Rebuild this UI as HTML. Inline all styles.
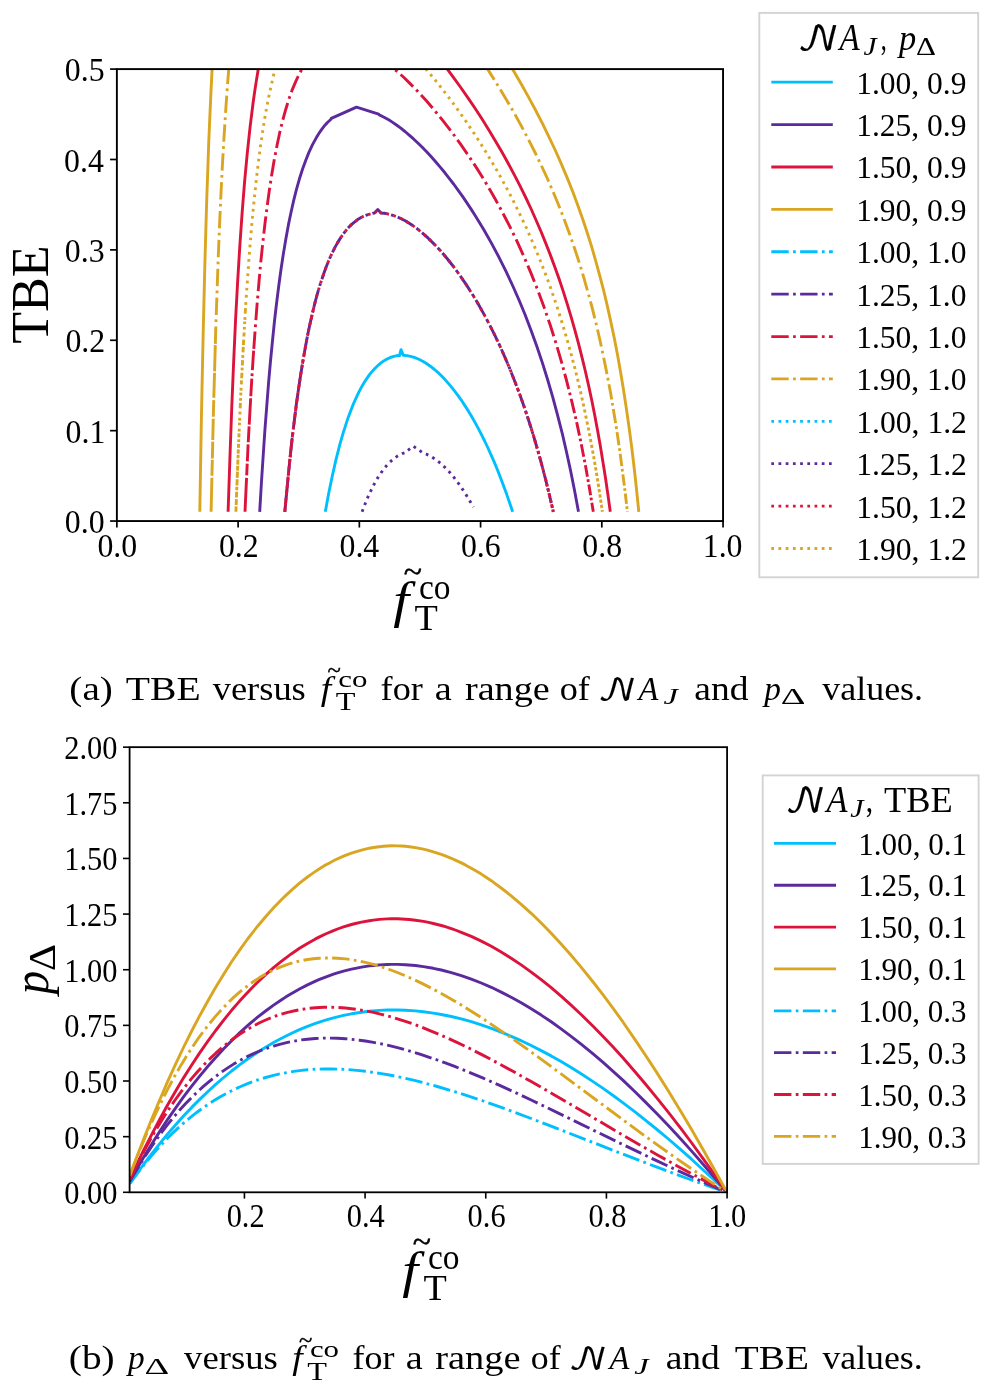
<!DOCTYPE html>
<html lang="en"><head><meta charset="utf-8"><style>html,body{margin:0;padding:0;background:#fff}svg{display:block}</style></head><body>
<svg width="991" height="1380" viewBox="0 0 991 1380" style="display:block;font-kerning:none">
<rect width="991" height="1380" fill="#fff"/>
<defs><clipPath id="c1"><rect x="116.87" y="69.1" width="606.18" height="451.95"/></clipPath>
<clipPath id="c2"><rect x="129.6" y="747.16" width="597.48" height="445.14"/></clipPath></defs>
<g clip-path="url(#c1)">
<path d="M325.3 511.8 L328.7 493.2 L332.4 475.5 L336.0 459.6 L339.8 444.7 L343.7 431.2 L345.7 425.1 L347.8 418.6 L349.9 412.9 L352.0 407.4 L354.1 402.3 L356.6 396.8 L358.6 392.6 L360.8 388.4 L363.0 384.5 L365.4 380.6 L367.6 377.4 L369.7 374.4 L372.2 371.4 L374.6 368.7 L377.9 365.5 L380.7 363.1 L383.7 360.9 L387.0 359.1 L390.3 357.5 L393.8 356.4 L396.0 355.9 L398.2 355.5 L398.9 355.4 L399.6 355.6 L401.0 349.6 L403.3 355.3 L406.9 355.6 L410.6 356.3 L414.2 357.4 L418.3 359.0 L422.3 361.0 L426.1 363.2 L430.3 366.2 L434.5 369.5 L437.8 372.3 L441.1 375.5 L444.3 378.8 L447.7 382.6 L451.1 386.6 L454.5 390.9 L457.7 395.1 L461.1 399.8 L464.9 405.6 L468.3 410.9 L471.8 416.8 L475.1 422.6 L478.4 428.6 L481.6 434.9 L484.9 441.5 L488.2 448.5 L491.5 455.9 L494.6 462.9 L497.9 471.0 L500.9 478.7 L506.8 494.6 L512.7 511.8" fill="none" stroke="#00bfff" stroke-width="2.9" stroke-linejoin="round"/>
<path d="M259.7 511.8 L261.4 483.0 L263.2 455.5 L264.9 430.0 L266.8 405.6 L268.6 382.4 L270.5 361.0 L272.5 340.7 L274.5 321.0 L276.6 303.0 L278.8 285.5 L281.1 268.8 L283.4 253.6 L285.9 238.7 L288.4 224.9 L291.0 212.5 L293.7 200.4 L296.4 189.6 L299.3 179.3 L302.5 169.3 L305.6 160.7 L308.9 152.4 L312.4 144.9 L316.1 138.1 L318.1 134.8 L319.8 132.1 L321.9 129.1 L324.2 126.1 L327.7 122.3 L331.0 119.2 L331.3 118.3 L356.5 107.2 L378.7 114.2 L379.3 114.9 L384.0 117.2 L388.7 119.8 L392.3 122.1 L396.5 125.0 L400.8 128.2 L405.0 131.5 L408.9 134.8 L413.3 138.7 L417.6 142.7 L422.0 147.0 L426.4 151.5 L430.8 156.3 L435.2 161.2 L440.0 166.9 L444.9 172.8 L449.2 178.3 L453.6 184.0 L458.2 190.3 L462.9 196.9 L467.1 203.1 L471.4 209.6 L475.6 216.2 L483.7 229.5 L491.7 243.6 L499.0 257.3 L505.9 271.1 L512.6 285.5 L519.0 300.0 L525.1 314.7 L531.1 330.5 L536.8 346.3 L542.4 362.9 L547.5 379.2 L552.6 396.6 L557.5 414.8 L562.1 432.8 L566.4 451.5 L570.6 470.8 L574.6 490.7 L578.5 511.8" fill="none" stroke="#5b2a9c" stroke-width="2.9" stroke-linejoin="round"/>
<path d="M228.1 511.8 L230.0 455.6 L231.8 406.2 L233.7 360.8 L235.6 319.3 L237.7 280.6 L239.9 244.8 L242.2 211.8 L244.6 181.6 L247.3 152.8 L250.1 126.9 L253.1 102.7 L254.7 91.5 L256.3 81.1 L258.0 70.8 L259.8 60.6 L261.6 51.3 L263.6 41.9 L265.8 32.6 L268.1 23.6 L270.6 15.2 L271.1 14.7 L402.1 14.7 L410.3 23.8 L418.6 33.2 L427.3 43.6 L435.5 53.8 L443.8 64.4 L452.3 75.8 L460.4 87.0 L468.5 98.6 L475.7 109.3 L482.5 119.8 L489.3 130.7 L496.0 141.9 L502.2 152.6 L508.4 163.7 L514.2 174.6 L520.0 185.9 L525.5 197.0 L530.9 208.5 L536.0 220.0 L541.2 232.0 L546.0 243.9 L550.6 255.6 L554.9 267.2 L559.3 279.6 L563.4 291.9 L567.5 304.9 L571.4 317.9 L575.0 330.7 L578.6 343.8 L582.0 357.4 L585.3 371.0 L588.6 385.5 L591.7 400.0 L594.6 414.5 L597.5 429.9 L600.3 445.7 L602.9 461.7 L605.5 478.0 L607.9 494.6 L610.3 511.8" fill="none" stroke="#dc143c" stroke-width="2.9" stroke-linejoin="round"/>
<path d="M199.8 511.8 L201.4 417.6 L203.1 336.8 L204.8 266.4 L206.6 203.7 L208.7 143.5 L209.9 115.6 L211.1 89.0 L212.6 59.4 L214.2 31.3 L215.3 15.3 L215.7 14.7 L477.7 14.7 L487.0 28.7 L496.8 43.7 L505.7 58.0 L513.8 71.3 L521.8 85.1 L529.1 98.1 L536.0 111.0 L542.9 124.4 L549.4 137.8 L555.4 150.5 L561.1 163.4 L566.9 177.1 L572.4 190.8 L577.5 204.5 L582.4 218.2 L587.0 232.0 L591.4 245.9 L595.7 260.8 L599.8 275.8 L603.7 290.6 L607.3 305.8 L610.9 322.1 L614.4 338.7 L617.7 355.7 L620.8 373.4 L623.7 391.0 L626.6 410.1 L629.3 429.1 L631.9 448.7 L634.3 469.0 L636.6 490.0 L638.8 511.8" fill="none" stroke="#daa520" stroke-width="2.9" stroke-linejoin="round"/>
<path d="M284.8 511.8 L288.5 473.2 L290.4 454.6 L292.3 437.1 L294.3 420.9 L296.3 404.8 L298.4 389.9 L300.6 375.3 L302.8 361.7 L305.0 349.2 L307.3 336.7 L309.7 325.2 L312.1 314.7 L314.6 304.2 L317.3 294.0 L320.0 284.9 L322.7 276.7 L325.5 268.8 L328.5 261.1 L331.5 254.3 L334.7 247.9 L337.6 242.6 L340.9 237.4 L344.3 232.6 L347.7 228.4 L350.8 225.2 L354.1 222.3 L357.7 219.6 L361.5 217.3 L363.5 216.3 L365.6 215.4 L369.1 214.3 L372.5 213.4 L374.5 213.0 L377.8 209.6 L381.0 213.0 L384.4 213.3 L387.3 213.8 L390.2 214.5 L393.1 215.4 L395.8 216.4 L399.2 217.8 L401.8 219.0 L405.2 220.8 L410.8 224.2 L416.3 228.1 L422.2 232.8 L428.2 238.2 L434.2 244.1 L440.8 251.1 L447.1 258.5 L453.4 266.5 L459.5 274.8 L465.9 284.1 L472.2 294.0 L478.1 303.8 L483.9 314.1 L489.4 324.4 L494.9 335.3 L500.4 347.0 L505.5 358.6 L510.7 370.9 L515.5 383.2 L520.5 396.4 L525.1 409.5 L529.4 422.7 L533.8 436.7 L537.9 450.8 L542.0 465.7 L545.8 480.2 L549.6 495.8 L553.3 511.8" fill="none" stroke="#5b2a9c" stroke-width="2.9" stroke-linejoin="round" stroke-dasharray="34.0 2.4 16.5 1.9 19.4 2.6 2.7 3.2 18.3 2.3 15.7 1.6 27.8 2.6 2.7 3.2 19.9 1.8 20.0 2.6 2.7 3.2 17.4 4.4 2.7 4.4 17.4 4.4 2.7 4.4 17.4 4.4 2.7 4.4 17.4 4.4 2.7 4.4 17.4 4.4 2.7 4.4 17.4 4.4 2.7 4.4 17.4 4.4 2.7 4.4 17.4 4.4 2.7 4.4 17.4 4.4 2.7 4.4 17.4 4.4 2.7 4.4 16.4 3.7 2.7 3.7 15.5 3.5 2.7 3.5 14.6 3.3 2.7 3.3 13.8 3.1 2.7 3.1 13.0 2.9 2.7 2.9 12.3 2.8 2.7 2.8 11.6 2.6 2.7 2.6 10.9 2.4 2.7 2.4 10.2 2.3 2.7 2.3 9.6 2.2 2.7 2.2 9.6 2.2 2.7 2.2 9.6 2.2 2.7 2.2"/>
<path d="M245.0 511.8 L248.1 444.7 L249.8 413.9 L251.4 385.5 L253.1 358.6 L254.9 333.1 L256.7 309.0 L258.6 286.4 L260.6 263.9 L262.7 243.6 L264.9 224.2 L267.1 206.6 L269.4 189.9 L271.8 174.2 L274.3 159.6 L277.0 145.4 L279.7 132.7 L282.6 120.7 L285.8 109.2 L288.9 99.1 L292.3 89.6 L295.7 81.6 L297.6 77.5 L299.4 73.8 L301.2 70.5 L303.1 67.2 L304.8 64.6 L306.9 61.5 L309.2 58.5 L311.1 56.2 L313.2 54.1 L315.4 52.0 L317.6 50.1 L320.1 48.3 L322.5 46.8 L325.2 45.4 L327.9 44.3 L330.0 43.6 L332.2 43.0 L335.1 42.5 L337.3 42.3 L340.2 42.2 L343.8 42.3 L348.2 43.0 L351.8 43.8 L356.2 45.1 L360.2 46.7 L364.9 48.8 L369.6 51.3 L374.0 53.9 L378.9 57.1 L383.7 60.5 L388.6 64.2 L393.8 68.5 L398.7 72.8 L404.2 77.8 L409.6 83.1 L415.1 88.6 L420.7 94.6 L426.6 101.0 L431.9 107.2 L437.7 114.2 L443.5 121.4 L448.9 128.3 L454.7 136.0 L460.2 143.7 L465.7 151.6 L470.8 159.1 L476.4 167.6 L481.5 175.7 L486.5 184.0 L491.2 192.0 L495.9 200.3 L500.7 209.0 L508.7 224.3 L516.6 240.4 L524.1 257.0 L531.1 273.4 L537.8 290.2 L544.2 307.6 L550.3 325.3 L556.1 343.6 L561.7 362.6 L566.8 381.5 L571.9 401.9 L576.7 422.4 L581.2 443.8 L585.4 465.3 L589.5 488.4 L593.3 511.8" fill="none" stroke="#dc143c" stroke-width="2.9" stroke-linejoin="round" stroke-dasharray="34.0 2.5 11.7 2.3 17.0 2.1 15.9 1.8 26.4 2.0 17.6 2.6 2.7 3.2 19.6 1.8 17.4 4.4 2.7 4.4 17.4 4.4 2.7 4.4 17.4 4.4 2.7 4.4 17.4 4.4 2.7 4.4 17.4 4.4 2.7 4.4 17.4 4.4 2.7 4.4 17.4 4.4 2.7 4.4 17.4 4.4 2.7 4.4 17.4 4.4 2.7 4.4 17.4 4.4 2.7 4.4 17.4 4.4 2.7 4.4 17.4 4.4 2.7 4.4 17.4 4.4 2.7 4.4 17.4 4.4 2.7 4.4 17.4 4.4 2.7 4.4 17.4 4.4 2.7 4.4 17.4 4.4 2.7 4.4 17.4 4.4 2.7 4.4 17.4 4.4 2.7 4.4 17.4 4.4 2.7 4.4 17.4 4.4 2.7 4.4 17.4 4.4 2.7 4.4 17.4 4.4 2.7 4.4 17.4 4.4 2.7 4.4 17.4 4.4 2.7 4.4 17.1 3.9 2.7 3.9 15.9 3.6 2.7 3.6 14.8 3.3 2.7 3.3 13.7 3.1 2.7 3.1 12.7 2.9 2.7 2.9 11.8 2.6 2.7 2.6 10.9 2.4 2.7 2.4 10.1 2.3 2.7 2.3 9.6 2.2 2.7 2.2 9.6 2.2 2.7 2.2 9.6 2.2 2.7 2.2"/>
<path d="M211.1 511.8 L213.4 413.0 L215.7 330.6 L217.0 293.3 L218.2 258.1 L219.5 226.4 L220.9 195.2 L222.4 164.9 L224.1 135.9 L225.8 109.2 L227.5 84.6 L229.7 57.8 L232.1 32.0 L233.9 15.0 L234.6 14.7 L450.0 14.7 L450.6 15.2 L460.8 29.4 L470.5 43.4 L480.3 57.9 L489.2 71.6 L497.7 85.2 L505.7 98.4 L513.4 111.6 L521.0 125.4 L527.9 138.4 L534.8 152.0 L541.2 165.2 L547.6 179.0 L553.3 192.3 L559.1 206.2 L564.5 220.2 L569.8 234.5 L574.6 248.5 L579.5 263.4 L584.1 278.6 L588.4 293.9 L592.6 309.5 L596.6 325.6 L600.2 341.3 L603.8 358.2 L607.3 375.5 L610.6 393.1 L613.7 411.4 L616.8 430.5 L619.7 450.3 L622.3 469.9 L624.9 490.2 L627.4 511.8" fill="none" stroke="#daa520" stroke-width="2.9" stroke-linejoin="round" stroke-dasharray="34.0 2.0 16.0 1.4 16.8 1.6 21.3 1.9 16.7 2.4 25.0 1.4 26.2 1.3 17.4 4.4 2.7 4.4 17.4 4.4 2.7 4.4 17.4 4.4 2.7 4.4 17.4 4.4 2.7 4.4 17.4 4.4 2.7 4.4 17.4 4.4 2.7 4.4 17.4 4.4 2.7 4.4 17.4 4.4 2.7 4.4 17.4 4.4 2.7 4.4 17.4 4.4 2.7 4.4 17.4 4.4 2.7 4.4 17.4 4.4 2.7 4.4 17.4 4.4 2.7 4.4 17.4 4.4 2.7 4.4 17.4 4.4 2.7 4.4 17.4 4.4 2.7 4.4 17.4 4.4 2.7 4.4 17.4 4.4 2.7 4.4 17.4 4.4 2.7 4.4 17.4 4.4 2.7 4.4 17.4 4.4 2.7 4.4 17.4 4.4 2.7 4.4 17.4 4.4 2.7 4.4 17.4 4.4 2.7 4.4 17.4 4.4 2.7 4.4 17.4 4.4 2.7 4.4 17.4 4.4 2.7 4.4 17.4 4.4 2.7 4.4 17.4 4.4 2.7 4.4 17.4 4.4 2.7 4.4 17.4 4.4 2.7 4.4 17.4 4.4 2.7 4.4 16.7 3.8 2.7 3.8 15.5 3.5 2.7 3.5 14.3 3.2 2.7 3.2 13.3 3.0 2.7 3.0 12.3 2.8 2.7 2.8 11.4 2.6 2.7 2.6 10.5 2.4 2.7 2.4 9.7 2.2 2.7 2.2 9.6 2.2 2.7 2.2 9.6 2.2 2.7 2.2"/>
<path d="M362.1 511.8 L364.5 505.4 L367.2 498.6 L370.0 492.5 L372.8 486.7 L375.7 481.3 L378.4 476.7 L381.4 472.3 L384.0 468.7 L386.5 465.7 L389.0 463.0 L391.8 460.4 L394.1 458.5 L397.1 456.3 L399.7 454.8 L403.0 453.3 L405.9 452.4 L406.0 451.8 L413.3 446.2 L423.0 452.9 L426.1 454.0 L428.7 455.3 L431.4 456.7 L434.5 458.7 L437.5 460.9 L440.5 463.2 L443.2 465.7 L445.9 468.3 L449.5 472.1 L452.9 476.1 L456.3 480.4 L459.7 485.1 L463.1 490.1 L466.5 495.4 L470.0 501.2 L473.3 507.1" fill="none" stroke="#5b2a9c" stroke-width="2.9" stroke-linejoin="round" stroke-dasharray="2.72 4.49"/>
<path d="M284.8 511.8 L288.5 473.2 L290.4 454.6 L292.3 437.1 L294.3 420.9 L296.3 404.8 L298.4 389.9 L300.6 375.3 L302.8 361.7 L305.0 349.2 L307.3 336.7 L309.7 325.2 L312.1 314.7 L314.6 304.2 L317.3 294.0 L320.0 284.9 L322.7 276.7 L325.5 268.8 L328.5 261.1 L331.5 254.3 L334.7 247.9 L337.6 242.6 L340.9 237.4 L344.3 232.6 L347.7 228.4 L350.8 225.2 L354.1 222.3 L357.7 219.6 L361.5 217.3 L363.5 216.3 L365.6 215.4 L369.1 214.3 L372.5 213.4 L374.5 213.0 L377.8 209.6 L381.0 213.0 L384.4 213.3 L387.3 213.8 L390.2 214.5 L393.1 215.4 L395.8 216.4 L399.2 217.8 L401.8 219.0 L405.2 220.8 L410.8 224.2 L416.3 228.1 L422.2 232.8 L428.2 238.2 L434.2 244.1 L440.8 251.1 L447.1 258.5 L453.4 266.5 L459.5 274.8 L465.9 284.1 L472.2 294.0 L478.1 303.8 L483.9 314.1 L489.4 324.4 L494.9 335.3 L500.4 347.0 L505.5 358.6 L510.7 370.9 L515.5 383.2 L520.5 396.4 L525.1 409.5 L529.4 422.7 L533.8 436.7 L537.9 450.8 L542.0 465.7 L545.8 480.2 L549.6 495.8 L553.3 511.8" fill="none" stroke="#dc143c" stroke-width="2.9" stroke-linejoin="round" stroke-dasharray="4.2 1.0 4.7 1.0 3.7 1.2 6.3 1.5 5.8 1.1 5.1 1.1 4.0 1.0 4.1 1.5 6.0 1.5 5.9 1.0 4.4 1.3 5.5 1.8 5.5 2.9 2.7 2.0 4.0 2.2 5.5 1.6 5.5 2.7 5.5 3.3 2.7 2.4 5.5 2.5 2.7 2.1 5.5 3.2 2.7 1.8 4.0 2.9 5.5 2.6 4.0 3.0 2.7 3.6 2.7 1.7 2.7 2.9 4.0 2.2 5.5 2.5 5.5 2.9 2.7 4.5 2.7 4.5 2.7 4.5 2.7 4.5 2.7 4.5 2.7 4.5 2.7 4.5 2.7 4.5 2.7 4.5 2.7 4.5 2.7 4.5 2.7 4.5 2.7 4.5 2.7 4.5 2.7 4.5 2.7 4.5 2.7 4.5 2.7 4.5 2.7 4.5 2.7 4.5 2.7 4.5 2.7 4.5 2.7 4.5 2.7 4.5 2.7 4.5 2.7 4.5 2.7 4.5 2.7 4.5 2.7 4.5 2.7 4.5 2.7 4.5 2.7 4.5 2.7 4.5 2.7 4.5 2.7 4.5 2.7 4.5 2.7 4.5 2.7 4.4 2.8 4.3 2.8 4.2 2.8 4.1 2.8 4.0 2.8 4.0 2.9 3.9 2.9 3.8 2.9 3.7 2.9 3.6 2.9 3.6 3.0 3.5 3.0 3.4 3.0 3.3 3.0 3.3 3.0 3.2 3.1 3.1 3.1 3.0 3.1 3.0 3.1 2.9 3.1 2.8 3.1 2.7 3.2 2.7 3.2 2.6 3.2 2.5 3.2 2.5 3.2 2.4 3.2 2.3 3.3 2.3 3.3 2.2 3.3 2.1 3.3 2.1 3.3 2.0 3.3 1.9 3.4 1.9 3.4 1.8 3.4 1.8 3.4 1.8 3.4 1.8 3.4 1.8"/>
<path d="M235.9 511.8 L238.3 450.6 L240.7 396.2 L243.3 346.6 L245.9 301.9 L248.8 261.2 L250.3 242.1 L251.8 224.4 L253.4 207.5 L255.1 190.8 L256.8 175.5 L258.6 160.4 L260.4 146.7 L262.4 133.2 L264.4 120.2 L266.5 108.4 L268.7 97.1 L271.1 85.9 L273.4 75.9 L275.8 66.9 L278.2 58.5 L280.9 50.3 L283.6 43.0 L286.6 35.6 L289.6 29.3 L292.8 23.3 L294.9 20.0 L296.6 17.5 L298.4 15.1 L299.0 14.7 L368.8 14.7 L369.6 14.7 L372.0 16.5 L378.7 21.6 L385.4 27.3 L392.5 33.7 L399.6 40.5 L406.7 47.7 L414.3 55.8 L421.5 63.9 L429.3 73.0 L437.1 82.4 L444.3 91.7 L451.8 101.5 L459.0 111.4 L466.2 121.7 L473.0 131.8 L479.8 142.2 L486.6 153.1 L492.1 162.3 L497.6 171.7 L502.7 180.8 L507.8 190.3 L512.5 199.3 L517.2 208.8 L521.9 218.4 L526.5 228.2 L531.0 238.4 L535.2 248.3 L539.5 258.7 L543.4 268.7 L547.4 279.1 L551.0 289.0 L554.6 299.5 L558.2 310.5 L561.6 321.2 L565.0 332.5 L568.2 343.4 L571.3 354.9 L574.4 366.5 L577.5 378.9 L580.4 391.2 L583.1 403.3 L585.8 416.1 L588.4 428.6 L590.9 441.8 L593.5 455.7 L595.8 469.0 L598.1 483.0 L602.4 511.8" fill="none" stroke="#daa520" stroke-width="2.9" stroke-linejoin="round" stroke-dasharray="5.4 1.4 5.9 1.6 5.7 1.5 3.6 1.2 6.3 1.4 6.2 1.0 4.9 1.1 5.1 1.3 3.5 1.1 4.3 1.5 4.0 1.9 2.7 1.9 4.0 1.9 2.7 3.5 2.7 2.0 2.7 3.5 2.7 3.3 5.5 2.2 2.7 2.7 2.7 2.0 2.7 3.5 4.0 2.2 5.5 2.4 2.7 2.1 5.5 2.2 2.7 2.8 5.5 1.7 5.5 3.2 4.0 3.0 2.7 2.6 2.7 1.7 2.7 3.5 5.5 3.3 2.7 4.5 2.7 4.5 2.7 4.5 2.7 4.5 2.7 4.5 2.7 4.5 2.7 4.5 2.7 4.5 2.7 4.5 2.7 4.5 2.7 4.5 2.7 4.5 2.7 4.5 2.7 4.5 2.7 4.5 2.7 4.5 2.7 4.5 2.7 4.5 2.7 4.5 2.7 4.5 2.7 4.5 2.7 4.5 2.7 4.5 2.7 4.5 2.7 4.5 2.7 4.5 2.7 4.5 2.7 4.5 2.7 4.5 2.7 4.5 2.7 4.5 2.7 4.5 2.7 4.5 2.7 4.5 2.7 4.5 2.7 4.5 2.7 4.5 2.7 4.5 2.7 4.5 2.7 4.5 2.7 4.5 2.7 4.5 2.7 4.5 2.7 4.5 2.7 4.5 2.7 4.5 2.7 4.5 2.7 4.5 2.7 4.5 2.7 4.5 2.7 4.5 2.7 4.5 2.7 4.5 2.7 4.5 2.7 4.5 2.7 4.5 2.7 4.5 2.7 4.5 2.7 4.5 2.7 4.5 2.7 4.5 2.7 4.5 2.7 4.5 2.7 4.5 2.7 4.5 2.7 4.5 2.7 4.5 2.7 4.5 2.7 4.5 2.7 4.5 2.7 4.5 2.7 4.5 2.7 4.5 2.7 4.5 2.7 4.5 2.7 4.5 2.7 4.5 2.7 4.5 2.7 4.5 2.7 4.5 2.7 4.5 2.7 4.5 2.7 4.5 2.7 4.5 2.7 4.5 2.7 4.5 2.7 4.5 2.7 4.5 2.7 4.5 2.7 4.5 2.7 4.5 2.7 4.5 2.7 4.5 2.7 4.5 2.7 4.5 2.7 4.5 2.7 4.5 2.7 4.5 2.7 4.5 2.7 4.5 2.7 4.4 2.8 4.3 2.8 4.2 2.8 4.1 2.8 4.0 2.9 4.0 2.9 3.9 2.9 3.8 2.9 3.7 2.9 3.6 3.0 3.5 3.0 3.5 3.0 3.4 3.0 3.3 3.0 3.2 3.0 3.1 3.1 3.1 3.1 3.0 3.1 2.9 3.1 2.8 3.1 2.8 3.2 2.7 3.2 2.6 3.2 2.5 3.2 2.5 3.2 2.4 3.2 2.3 3.3 2.3 3.3 2.2 3.3 2.1 3.3 2.1 3.3 2.0 3.3 1.9 3.4 1.9 3.4 1.8 3.4 1.8 3.4 1.8 3.4 1.8"/>
</g>
<rect x="116.87" y="69.1" width="606.18" height="451.95" fill="none" stroke="#000" stroke-width="1.9"/>
<line x1="116.87" y1="521.05" x2="116.87" y2="527.55" stroke="#000" stroke-width="1.7"/>
<line x1="238.11" y1="521.05" x2="238.11" y2="527.55" stroke="#000" stroke-width="1.7"/>
<line x1="359.34" y1="521.05" x2="359.34" y2="527.55" stroke="#000" stroke-width="1.7"/>
<line x1="480.58" y1="521.05" x2="480.58" y2="527.55" stroke="#000" stroke-width="1.7"/>
<line x1="601.81" y1="521.05" x2="601.81" y2="527.55" stroke="#000" stroke-width="1.7"/>
<line x1="723.05" y1="521.05" x2="723.05" y2="527.55" stroke="#000" stroke-width="1.7"/>
<line x1="116.87" y1="521.05" x2="110.07" y2="521.05" stroke="#000" stroke-width="1.7"/>
<line x1="116.87" y1="430.66" x2="110.07" y2="430.66" stroke="#000" stroke-width="1.7"/>
<line x1="116.87" y1="340.27" x2="110.07" y2="340.27" stroke="#000" stroke-width="1.7"/>
<line x1="116.87" y1="249.88" x2="110.07" y2="249.88" stroke="#000" stroke-width="1.7"/>
<line x1="116.87" y1="159.49" x2="110.07" y2="159.49" stroke="#000" stroke-width="1.7"/>
<line x1="116.87" y1="69.10" x2="110.07" y2="69.10" stroke="#000" stroke-width="1.7"/>
<text x="97.38" y="556.90" font-family='"Liberation Serif", "DejaVu Serif", serif' font-size="33.60" textLength="39.77" lengthAdjust="spacingAndGlyphs">0.0</text>
<text x="218.89" y="556.90" font-family='"Liberation Serif", "DejaVu Serif", serif' font-size="33.60" textLength="39.77" lengthAdjust="spacingAndGlyphs">0.2</text>
<text x="339.50" y="556.90" font-family='"Liberation Serif", "DejaVu Serif", serif' font-size="33.60" textLength="39.77" lengthAdjust="spacingAndGlyphs">0.4</text>
<text x="460.96" y="556.90" font-family='"Liberation Serif", "DejaVu Serif", serif' font-size="33.60" textLength="39.77" lengthAdjust="spacingAndGlyphs">0.6</text>
<text x="582.33" y="556.90" font-family='"Liberation Serif", "DejaVu Serif", serif' font-size="33.60" textLength="39.77" lengthAdjust="spacingAndGlyphs">0.8</text>
<text x="702.77" y="556.90" font-family='"Liberation Serif", "DejaVu Serif", serif' font-size="33.60" textLength="39.77" lengthAdjust="spacingAndGlyphs">1.0</text>
<text x="64.84" y="533.15" font-family='"Liberation Serif", "DejaVu Serif", serif' font-size="33.60" textLength="39.77" lengthAdjust="spacingAndGlyphs">0.0</text>
<text x="65.54" y="442.76" font-family='"Liberation Serif", "DejaVu Serif", serif' font-size="33.60" textLength="39.77" lengthAdjust="spacingAndGlyphs">0.1</text>
<text x="65.38" y="352.37" font-family='"Liberation Serif", "DejaVu Serif", serif' font-size="33.60" textLength="39.77" lengthAdjust="spacingAndGlyphs">0.2</text>
<text x="64.87" y="261.98" font-family='"Liberation Serif", "DejaVu Serif", serif' font-size="33.60" textLength="39.77" lengthAdjust="spacingAndGlyphs">0.3</text>
<text x="64.12" y="171.59" font-family='"Liberation Serif", "DejaVu Serif", serif' font-size="33.60" textLength="39.77" lengthAdjust="spacingAndGlyphs">0.4</text>
<text x="64.87" y="81.20" font-family='"Liberation Serif", "DejaVu Serif", serif' font-size="33.60" textLength="39.77" lengthAdjust="spacingAndGlyphs">0.5</text>
<g transform="translate(48.4 295.4) rotate(-90)"><text x="-48.44" y="0.00" font-family='"Liberation Serif", "DejaVu Serif", serif' font-size="53.30" textLength="98.54" lengthAdjust="spacingAndGlyphs">TBE</text></g>
<text x="393.15" y="616.60" font-family='"Liberation Serif", "DejaVu Serif", serif' font-size="51.00" font-style="italic" textLength="15.87" lengthAdjust="spacingAndGlyphs">f</text><text x="403.87" y="581.67" font-family='"Liberation Serif", "DejaVu Serif", serif' font-size="30.00" textLength="18.09" lengthAdjust="spacingAndGlyphs" stroke="#000" stroke-width="0.55">~</text><text x="418.93" y="598.60" font-family='"Liberation Serif", "DejaVu Serif", serif' font-size="36.00" textLength="31.55" lengthAdjust="spacingAndGlyphs">co</text><text x="414.41" y="630.00" font-family='"Liberation Serif", "DejaVu Serif", serif' font-size="36.20" textLength="23.32" lengthAdjust="spacingAndGlyphs">T</text>
<text x="69.38" y="699.50" font-family='"Liberation Serif", "DejaVu Serif", serif' font-size="33.00" textLength="43.44" lengthAdjust="spacingAndGlyphs">(a)</text>
<text x="125.88" y="699.50" font-family='"Liberation Serif", "DejaVu Serif", serif' font-size="33.00" textLength="74.89" lengthAdjust="spacingAndGlyphs">TBE</text>
<text x="212.70" y="699.50" font-family='"Liberation Serif", "DejaVu Serif", serif' font-size="33.00" textLength="93.12" lengthAdjust="spacingAndGlyphs">versus</text>
<text x="320.67" y="699.50" font-family='"Liberation Serif", "DejaVu Serif", serif' font-size="33.50" font-style="italic" textLength="10.42" lengthAdjust="spacingAndGlyphs">f</text><text x="327.42" y="676.94" font-family='"Liberation Serif", "DejaVu Serif", serif' font-size="22.00" textLength="13.29" lengthAdjust="spacingAndGlyphs" stroke="#000" stroke-width="0.4">~</text><text x="338.32" y="687.00" font-family='"Liberation Serif", "DejaVu Serif", serif' font-size="23.30" textLength="29.15" lengthAdjust="spacingAndGlyphs">co</text><text x="335.72" y="710.40" font-family='"Liberation Serif", "DejaVu Serif", serif' font-size="24.30" textLength="19.72" lengthAdjust="spacingAndGlyphs">T</text>
<text x="380.59" y="699.50" font-family='"Liberation Serif", "DejaVu Serif", serif' font-size="33.00" textLength="42.23" lengthAdjust="spacingAndGlyphs">for</text>
<text x="434.86" y="699.50" font-family='"Liberation Serif", "DejaVu Serif", serif' font-size="33.00" textLength="16.97" lengthAdjust="spacingAndGlyphs">a</text>
<text x="464.94" y="699.50" font-family='"Liberation Serif", "DejaVu Serif", serif' font-size="33.00" textLength="84.79" lengthAdjust="spacingAndGlyphs">range</text>
<text x="559.72" y="699.50" font-family='"Liberation Serif", "DejaVu Serif", serif' font-size="33.00" textLength="30.18" lengthAdjust="spacingAndGlyphs">of</text>
<text x="597.70" y="699.50" font-family='"DejaVu Math TeX Gyre", "DejaVu Serif", "Liberation Serif", serif' font-size="30.69" textLength="38.89" lengthAdjust="spacingAndGlyphs" stroke="#000" stroke-width="0.12">𝒩</text><text x="638.58" y="699.50" font-family='"Liberation Serif", "DejaVu Serif", serif' font-size="34.15" font-style="italic" textLength="19.91" lengthAdjust="spacingAndGlyphs">A</text><text x="663.51" y="704.10" font-family='"Liberation Serif", "DejaVu Serif", serif' font-size="23.10" font-style="italic" textLength="14.42" lengthAdjust="spacingAndGlyphs">J</text>
<text x="694.38" y="699.50" font-family='"Liberation Serif", "DejaVu Serif", serif' font-size="33.00" textLength="54.18" lengthAdjust="spacingAndGlyphs">and</text>
<text x="764.25" y="699.50" font-family='"Liberation Serif", "DejaVu Serif", serif' font-size="33.00" font-style="italic" textLength="16.66" lengthAdjust="spacingAndGlyphs">p</text><text x="780.84" y="703.90" font-family='"Liberation Serif", "DejaVu Serif", serif' font-size="23.10" textLength="24.71" lengthAdjust="spacingAndGlyphs">Δ</text>
<text x="822.30" y="699.50" font-family='"Liberation Serif", "DejaVu Serif", serif' font-size="33.00" textLength="100.77" lengthAdjust="spacingAndGlyphs">values.</text>
<rect x="759.3" y="12.9" width="218.9" height="564.4" fill="#fff" stroke="#d3d3d3" stroke-width="1.9"/>
<text x="797.28" y="49.90" font-family='"DejaVu Math TeX Gyre", "DejaVu Serif", "Liberation Serif", serif' font-size="33.29" textLength="42.04" lengthAdjust="spacingAndGlyphs" stroke="#000" stroke-width="0.12">𝒩</text><text x="839.61" y="49.90" font-family='"Liberation Serif", "DejaVu Serif", serif' font-size="37.05" font-style="italic" textLength="20.18" lengthAdjust="spacingAndGlyphs">A</text><text x="863.45" y="55.10" font-family='"Liberation Serif", "DejaVu Serif", serif' font-size="25.06" font-style="italic" textLength="13.09" lengthAdjust="spacingAndGlyphs">J</text>
<text x="880.78" y="49.90" font-family='"Liberation Serif", "DejaVu Serif", serif' font-size="35.80" textLength="6.04" lengthAdjust="spacingAndGlyphs">,</text>
<text x="899.12" y="49.90" font-family='"Liberation Serif", "DejaVu Serif", serif' font-size="35.80" font-style="italic" textLength="17.22" lengthAdjust="spacingAndGlyphs">p</text><text x="915.92" y="54.50" font-family='"Liberation Serif", "DejaVu Serif", serif' font-size="25.06" textLength="19.95" lengthAdjust="spacingAndGlyphs">Δ</text>
<line x1="771.3" y1="82.20" x2="832.8" y2="82.20" stroke="#00bfff" stroke-width="2.8"/>
<text x="856.23" y="93.60" font-family='"Liberation Serif", "DejaVu Serif", serif' font-size="32.40" textLength="110.26" lengthAdjust="spacingAndGlyphs">1.00, 0.9</text>
<line x1="771.3" y1="124.59" x2="832.8" y2="124.59" stroke="#5b2a9c" stroke-width="2.8"/>
<text x="856.23" y="135.99" font-family='"Liberation Serif", "DejaVu Serif", serif' font-size="32.40" textLength="110.26" lengthAdjust="spacingAndGlyphs">1.25, 0.9</text>
<line x1="771.3" y1="166.98" x2="832.8" y2="166.98" stroke="#dc143c" stroke-width="2.8"/>
<text x="856.23" y="178.38" font-family='"Liberation Serif", "DejaVu Serif", serif' font-size="32.40" textLength="110.26" lengthAdjust="spacingAndGlyphs">1.50, 0.9</text>
<line x1="771.3" y1="209.37" x2="832.8" y2="209.37" stroke="#daa520" stroke-width="2.8"/>
<text x="856.23" y="220.77" font-family='"Liberation Serif", "DejaVu Serif", serif' font-size="32.40" textLength="110.26" lengthAdjust="spacingAndGlyphs">1.90, 0.9</text>
<line x1="771.3" y1="251.76" x2="832.8" y2="251.76" stroke="#00bfff" stroke-width="2.8" stroke-dasharray="17.41 4.35 2.72 4.35"/>
<text x="856.23" y="263.16" font-family='"Liberation Serif", "DejaVu Serif", serif' font-size="32.40" textLength="110.17" lengthAdjust="spacingAndGlyphs">1.00, 1.0</text>
<line x1="771.3" y1="294.15" x2="832.8" y2="294.15" stroke="#5b2a9c" stroke-width="2.8" stroke-dasharray="17.41 4.35 2.72 4.35"/>
<text x="856.23" y="305.55" font-family='"Liberation Serif", "DejaVu Serif", serif' font-size="32.40" textLength="110.17" lengthAdjust="spacingAndGlyphs">1.25, 1.0</text>
<line x1="771.3" y1="336.54" x2="832.8" y2="336.54" stroke="#dc143c" stroke-width="2.8" stroke-dasharray="17.41 4.35 2.72 4.35"/>
<text x="856.23" y="347.94" font-family='"Liberation Serif", "DejaVu Serif", serif' font-size="32.40" textLength="110.17" lengthAdjust="spacingAndGlyphs">1.50, 1.0</text>
<line x1="771.3" y1="378.93" x2="832.8" y2="378.93" stroke="#daa520" stroke-width="2.8" stroke-dasharray="17.41 4.35 2.72 4.35"/>
<text x="856.23" y="390.33" font-family='"Liberation Serif", "DejaVu Serif", serif' font-size="32.40" textLength="110.17" lengthAdjust="spacingAndGlyphs">1.90, 1.0</text>
<line x1="771.3" y1="421.32" x2="832.8" y2="421.32" stroke="#00bfff" stroke-width="2.8" stroke-dasharray="2.72 4.49"/>
<text x="856.22" y="432.72" font-family='"Liberation Serif", "DejaVu Serif", serif' font-size="32.40" textLength="110.73" lengthAdjust="spacingAndGlyphs">1.00, 1.2</text>
<line x1="771.3" y1="463.71" x2="832.8" y2="463.71" stroke="#5b2a9c" stroke-width="2.8" stroke-dasharray="2.72 4.49"/>
<text x="856.22" y="475.11" font-family='"Liberation Serif", "DejaVu Serif", serif' font-size="32.40" textLength="110.73" lengthAdjust="spacingAndGlyphs">1.25, 1.2</text>
<line x1="771.3" y1="506.10" x2="832.8" y2="506.10" stroke="#dc143c" stroke-width="2.8" stroke-dasharray="2.72 4.49"/>
<text x="856.22" y="517.50" font-family='"Liberation Serif", "DejaVu Serif", serif' font-size="32.40" textLength="110.73" lengthAdjust="spacingAndGlyphs">1.50, 1.2</text>
<line x1="771.3" y1="548.49" x2="832.8" y2="548.49" stroke="#daa520" stroke-width="2.8" stroke-dasharray="2.72 4.49"/>
<text x="856.22" y="559.89" font-family='"Liberation Serif", "DejaVu Serif", serif' font-size="32.40" textLength="110.73" lengthAdjust="spacingAndGlyphs">1.90, 1.2</text>
<g clip-path="url(#c2)">
<path d="M129.8 1183.5 L135.8 1175.0 L143.8 1164.1 L151.8 1153.6 L159.8 1143.6 L167.7 1133.9 L175.7 1124.7 L183.7 1115.8 L191.7 1107.4 L199.7 1099.4 L207.7 1091.7 L215.7 1084.4 L223.7 1077.5 L231.6 1071.0 L239.6 1064.8 L247.6 1059.0 L257.6 1052.2 L265.6 1047.2 L273.6 1042.5 L281.6 1038.2 L291.6 1033.2 L299.5 1029.6 L307.5 1026.3 L315.5 1023.4 L325.5 1020.1 L333.5 1017.8 L343.5 1015.4 L351.5 1013.8 L361.5 1012.2 L369.4 1011.2 L379.4 1010.4 L387.4 1010.0 L397.4 1010.0 L405.4 1010.2 L415.4 1010.9 L423.4 1011.7 L433.3 1013.1 L441.3 1014.5 L451.3 1016.5 L461.3 1018.9 L471.3 1021.7 L481.3 1024.8 L491.3 1028.3 L501.2 1032.1 L511.2 1036.3 L521.2 1040.7 L531.2 1045.5 L541.2 1050.6 L551.2 1055.9 L561.1 1061.6 L571.1 1067.5 L581.1 1073.8 L593.1 1081.6 L603.1 1088.4 L613.1 1095.5 L623.1 1102.8 L635.0 1111.9 L645.0 1119.8 L657.0 1129.5 L669.0 1139.5 L681.0 1149.9 L691.0 1158.7 L702.9 1169.7 L714.9 1180.8 L726.9 1192.3" fill="none" stroke="#00bfff" stroke-width="2.9" stroke-linejoin="round"/>
<path d="M129.8 1181.3 L135.8 1170.7 L143.8 1157.1 L151.8 1144.0 L159.8 1131.4 L167.7 1119.3 L175.7 1107.8 L183.7 1096.7 L191.7 1086.2 L199.7 1076.1 L207.7 1066.5 L215.7 1057.5 L223.7 1048.8 L231.6 1040.7 L239.6 1032.9 L247.6 1025.7 L251.6 1022.2 L257.6 1017.2 L265.6 1011.0 L273.6 1005.1 L281.6 999.7 L285.6 997.1 L291.6 993.5 L299.5 989.0 L307.5 984.9 L315.5 981.1 L319.5 979.4 L325.5 977.1 L333.5 974.2 L337.5 972.9 L343.5 971.2 L351.5 969.2 L355.5 968.3 L361.5 967.1 L369.4 965.9 L373.4 965.5 L379.4 964.9 L387.4 964.5 L391.4 964.4 L397.4 964.4 L405.4 964.7 L415.4 965.5 L423.4 966.6 L433.3 968.3 L441.3 970.0 L451.3 972.6 L461.3 975.6 L471.3 979.1 L481.3 983.0 L491.3 987.3 L501.2 992.1 L511.2 997.3 L521.2 1002.8 L531.2 1008.8 L541.2 1015.1 L551.2 1021.8 L561.1 1028.9 L571.1 1036.3 L581.1 1044.1 L593.1 1053.9 L603.1 1062.4 L613.1 1071.3 L623.1 1080.4 L635.0 1091.8 L645.0 1101.6 L657.0 1113.8 L669.0 1126.3 L681.0 1139.3 L691.0 1150.4 L702.9 1164.0 L714.9 1178.0 L726.9 1192.3" fill="none" stroke="#5b2a9c" stroke-width="2.9" stroke-linejoin="round"/>
<path d="M129.8 1179.1 L135.8 1166.4 L143.8 1150.0 L151.8 1134.3 L159.8 1119.2 L167.7 1104.7 L175.7 1090.9 L183.7 1077.6 L191.7 1065.0 L199.7 1052.9 L207.7 1041.4 L215.7 1030.5 L223.7 1020.1 L231.6 1010.3 L239.6 1001.1 L247.6 992.4 L251.6 988.2 L257.6 982.2 L265.6 974.7 L273.6 967.7 L281.6 961.2 L285.6 958.1 L291.6 953.7 L299.5 948.3 L307.5 943.4 L315.5 938.9 L319.5 936.9 L325.5 934.0 L333.5 930.6 L337.5 929.0 L343.5 926.9 L351.5 924.5 L355.5 923.5 L361.5 922.1 L369.4 920.7 L373.4 920.1 L379.4 919.4 L387.4 918.9 L391.4 918.8 L397.4 918.8 L405.4 919.2 L409.4 919.5 L415.4 920.2 L423.4 921.4 L427.4 922.2 L433.3 923.5 L441.3 925.5 L445.3 926.7 L451.3 928.6 L455.3 930.0 L461.3 932.3 L471.3 936.4 L481.3 941.1 L491.3 946.3 L501.2 952.0 L511.2 958.2 L521.2 964.9 L531.2 972.1 L541.2 979.7 L551.2 987.7 L561.1 996.2 L571.1 1005.2 L581.1 1014.5 L593.1 1026.2 L603.1 1036.5 L613.1 1047.1 L623.1 1058.0 L635.0 1071.7 L645.0 1083.5 L657.0 1098.1 L669.0 1113.1 L681.0 1128.7 L691.0 1142.0 L702.9 1158.3 L714.9 1175.1 L726.9 1192.3" fill="none" stroke="#dc143c" stroke-width="2.9" stroke-linejoin="round"/>
<path d="M129.8 1175.6 L135.8 1159.5 L143.8 1138.8 L151.8 1118.8 L159.8 1099.7 L167.7 1081.4 L175.7 1063.8 L183.7 1047.0 L191.7 1031.0 L199.7 1015.7 L207.7 1001.2 L215.7 987.3 L223.7 974.2 L231.6 961.8 L239.6 950.1 L247.6 939.0 L251.6 933.8 L257.6 926.2 L265.6 916.7 L273.6 907.8 L281.6 899.5 L285.6 895.6 L291.6 890.1 L299.5 883.2 L307.5 877.0 L311.5 874.1 L315.5 871.4 L319.5 868.8 L325.5 865.1 L329.5 862.9 L333.5 860.8 L337.5 858.8 L343.5 856.2 L347.5 854.6 L351.5 853.1 L355.5 851.8 L361.5 850.1 L365.4 849.1 L369.4 848.2 L373.4 847.5 L379.4 846.7 L383.4 846.3 L387.4 846.0 L391.4 845.8 L397.4 845.9 L401.4 846.0 L405.4 846.3 L409.4 846.8 L415.4 847.6 L423.4 849.2 L427.4 850.1 L433.3 851.8 L441.3 854.4 L445.3 855.9 L451.3 858.3 L455.3 860.1 L461.3 862.9 L465.3 864.9 L471.3 868.2 L475.3 870.5 L481.3 874.1 L485.3 876.7 L491.3 880.7 L495.2 883.6 L501.2 888.0 L511.2 895.8 L521.2 904.3 L531.2 913.3 L541.2 923.0 L551.2 933.2 L561.1 944.0 L571.1 955.3 L581.1 967.1 L593.1 982.0 L603.1 994.9 L613.1 1008.3 L623.1 1022.2 L635.0 1039.6 L645.0 1054.5 L657.0 1072.9 L669.0 1092.0 L681.0 1111.7 L691.0 1128.6 L702.9 1149.3 L714.9 1170.5 L726.9 1192.3" fill="none" stroke="#daa520" stroke-width="2.9" stroke-linejoin="round"/>
<path d="M129.8 1183.6 L133.8 1178.1 L139.8 1170.1 L145.8 1162.6 L151.8 1155.4 L155.8 1150.8 L161.8 1144.2 L167.7 1138.0 L173.7 1132.1 L179.7 1126.5 L185.7 1121.3 L191.7 1116.4 L197.7 1111.7 L203.7 1107.4 L209.7 1103.3 L215.7 1099.6 L221.7 1096.0 L227.7 1092.8 L233.6 1089.7 L239.6 1087.0 L247.6 1083.6 L253.6 1081.3 L259.6 1079.3 L265.6 1077.5 L273.6 1075.3 L279.6 1073.9 L287.6 1072.4 L293.6 1071.4 L301.5 1070.4 L307.5 1069.8 L315.5 1069.2 L323.5 1069.0 L331.5 1068.9 L337.5 1069.1 L345.5 1069.4 L351.5 1069.9 L359.5 1070.6 L365.4 1071.3 L373.4 1072.4 L381.4 1073.6 L389.4 1075.0 L397.4 1076.6 L405.4 1078.3 L413.4 1080.2 L421.4 1082.2 L437.3 1086.5 L455.3 1091.8 L469.3 1096.3 L483.3 1101.0 L499.2 1106.7 L515.2 1112.5 L547.2 1124.6 L623.1 1154.2 L657.0 1167.2 L675.0 1173.9 L693.0 1180.5 L710.9 1186.8 L726.9 1192.3" fill="none" stroke="#00bfff" stroke-width="2.9" stroke-linejoin="round" stroke-dasharray="17.41 4.35 2.72 4.35"/>
<path d="M129.8 1181.4 L133.8 1174.5 L139.8 1164.6 L145.8 1155.1 L151.8 1146.1 L155.8 1140.4 L161.8 1132.2 L167.7 1124.4 L173.7 1117.1 L179.7 1110.1 L185.7 1103.6 L191.7 1097.4 L197.7 1091.6 L203.7 1086.2 L209.7 1081.1 L215.7 1076.4 L221.7 1072.0 L227.7 1067.9 L233.6 1064.1 L239.6 1060.6 L247.6 1056.4 L253.6 1053.6 L259.6 1051.0 L265.6 1048.7 L273.6 1046.1 L279.6 1044.3 L287.6 1042.4 L293.6 1041.2 L301.5 1039.9 L307.5 1039.2 L315.5 1038.5 L323.5 1038.1 L331.5 1038.1 L337.5 1038.3 L345.5 1038.7 L351.5 1039.3 L359.5 1040.2 L365.4 1041.0 L373.4 1042.4 L381.4 1043.9 L389.4 1045.7 L397.4 1047.7 L405.4 1049.8 L413.4 1052.2 L421.4 1054.6 L429.3 1057.3 L437.3 1060.0 L445.3 1062.9 L455.3 1066.7 L469.3 1072.3 L483.3 1078.2 L499.2 1085.2 L515.2 1092.5 L531.2 1100.0 L547.2 1107.7 L623.1 1144.7 L657.0 1160.9 L675.0 1169.3 L693.0 1177.5 L710.9 1185.4 L726.9 1192.3" fill="none" stroke="#5b2a9c" stroke-width="2.9" stroke-linejoin="round" stroke-dasharray="17.41 4.35 2.72 4.35"/>
<path d="M129.8 1179.3 L133.8 1171.0 L139.8 1159.0 L145.8 1147.7 L151.8 1136.9 L155.8 1130.0 L161.8 1120.2 L167.7 1110.8 L173.7 1102.0 L179.7 1093.7 L185.7 1085.8 L191.7 1078.4 L197.7 1071.5 L203.7 1065.0 L209.7 1058.9 L215.7 1053.2 L221.7 1047.9 L227.7 1043.0 L233.6 1038.5 L239.6 1034.3 L243.6 1031.7 L247.6 1029.3 L253.6 1025.9 L259.6 1022.8 L265.6 1020.0 L269.6 1018.4 L273.6 1016.8 L279.6 1014.7 L287.6 1012.4 L293.6 1011.0 L301.5 1009.4 L307.5 1008.5 L315.5 1007.7 L323.5 1007.3 L331.5 1007.3 L337.5 1007.5 L345.5 1008.0 L351.5 1008.7 L359.5 1009.8 L365.4 1010.8 L373.4 1012.4 L381.4 1014.3 L389.4 1016.4 L397.4 1018.8 L405.4 1021.3 L413.4 1024.1 L421.4 1027.1 L429.3 1030.3 L437.3 1033.6 L445.3 1037.1 L455.3 1041.6 L469.3 1048.3 L483.3 1055.4 L499.2 1063.8 L515.2 1072.6 L531.2 1081.6 L547.2 1090.7 L623.1 1135.2 L641.0 1145.6 L657.0 1154.7 L675.0 1164.7 L693.0 1174.5 L710.9 1184.1 L726.9 1192.3" fill="none" stroke="#dc143c" stroke-width="2.9" stroke-linejoin="round" stroke-dasharray="17.41 4.35 2.72 4.35"/>
<path d="M129.8 1175.8 L133.8 1165.3 L139.8 1150.2 L145.8 1135.8 L151.8 1122.1 L155.8 1113.4 L161.8 1100.9 L167.7 1089.1 L173.7 1077.9 L179.7 1067.4 L185.7 1057.4 L191.7 1048.0 L197.7 1039.2 L203.7 1031.0 L209.7 1023.3 L215.7 1016.1 L221.7 1009.4 L227.7 1003.2 L233.6 997.4 L239.6 992.1 L243.6 988.9 L247.6 985.8 L253.6 981.5 L259.6 977.6 L265.6 974.1 L269.6 972.0 L273.6 970.0 L279.6 967.4 L283.6 965.8 L287.6 964.4 L293.6 962.6 L297.5 961.5 L301.5 960.6 L307.5 959.5 L311.5 959.0 L315.5 958.5 L319.5 958.2 L323.5 958.0 L331.5 957.9 L337.5 958.2 L345.5 958.9 L351.5 959.7 L359.5 961.1 L365.4 962.4 L373.4 964.4 L381.4 966.8 L389.4 969.5 L397.4 972.5 L405.4 975.8 L413.4 979.3 L421.4 983.1 L429.3 987.1 L437.3 991.3 L445.3 995.7 L455.3 1001.4 L469.3 1010.0 L483.3 1018.9 L499.2 1029.6 L515.2 1040.6 L531.2 1052.0 L547.2 1063.6 L565.1 1076.9 L623.1 1119.9 L641.0 1133.1 L657.0 1144.6 L675.0 1157.4 L693.0 1169.8 L710.9 1181.9 L726.9 1192.3" fill="none" stroke="#daa520" stroke-width="2.9" stroke-linejoin="round" stroke-dasharray="17.41 4.35 2.72 4.35"/>
</g>
<rect x="129.6" y="747.16" width="597.48" height="445.14" fill="none" stroke="#000" stroke-width="1.8"/>
<line x1="244.43" y1="1192.3" x2="244.43" y2="1198.60" stroke="#000" stroke-width="1.6"/>
<line x1="365.09" y1="1192.3" x2="365.09" y2="1198.60" stroke="#000" stroke-width="1.6"/>
<line x1="485.75" y1="1192.3" x2="485.75" y2="1198.60" stroke="#000" stroke-width="1.6"/>
<line x1="606.42" y1="1192.3" x2="606.42" y2="1198.60" stroke="#000" stroke-width="1.6"/>
<line x1="727.08" y1="1192.3" x2="727.08" y2="1198.60" stroke="#000" stroke-width="1.6"/>
<line x1="129.6" y1="1192.30" x2="123.00" y2="1192.30" stroke="#000" stroke-width="1.6"/>
<line x1="129.6" y1="1136.66" x2="123.00" y2="1136.66" stroke="#000" stroke-width="1.6"/>
<line x1="129.6" y1="1081.01" x2="123.00" y2="1081.01" stroke="#000" stroke-width="1.6"/>
<line x1="129.6" y1="1025.37" x2="123.00" y2="1025.37" stroke="#000" stroke-width="1.6"/>
<line x1="129.6" y1="969.73" x2="123.00" y2="969.73" stroke="#000" stroke-width="1.6"/>
<line x1="129.6" y1="914.09" x2="123.00" y2="914.09" stroke="#000" stroke-width="1.6"/>
<line x1="129.6" y1="858.44" x2="123.00" y2="858.44" stroke="#000" stroke-width="1.6"/>
<line x1="129.6" y1="802.80" x2="123.00" y2="802.80" stroke="#000" stroke-width="1.6"/>
<line x1="129.6" y1="747.16" x2="123.00" y2="747.16" stroke="#000" stroke-width="1.6"/>
<text x="226.68" y="1227.40" font-family='"Liberation Serif", "DejaVu Serif", serif' font-size="33.60" textLength="38.01" lengthAdjust="spacingAndGlyphs">0.2</text>
<text x="346.75" y="1227.40" font-family='"Liberation Serif", "DejaVu Serif", serif' font-size="33.60" textLength="38.01" lengthAdjust="spacingAndGlyphs">0.4</text>
<text x="467.62" y="1227.40" font-family='"Liberation Serif", "DejaVu Serif", serif' font-size="33.60" textLength="38.01" lengthAdjust="spacingAndGlyphs">0.6</text>
<text x="588.41" y="1227.40" font-family='"Liberation Serif", "DejaVu Serif", serif' font-size="33.60" textLength="38.01" lengthAdjust="spacingAndGlyphs">0.8</text>
<text x="708.32" y="1227.40" font-family='"Liberation Serif", "DejaVu Serif", serif' font-size="33.60" textLength="38.01" lengthAdjust="spacingAndGlyphs">1.0</text>
<text x="64.24" y="1204.30" font-family='"Liberation Serif", "DejaVu Serif", serif' font-size="33.60" textLength="53.21" lengthAdjust="spacingAndGlyphs">0.00</text>
<text x="64.27" y="1148.66" font-family='"Liberation Serif", "DejaVu Serif", serif' font-size="33.60" textLength="53.21" lengthAdjust="spacingAndGlyphs">0.25</text>
<text x="64.24" y="1093.01" font-family='"Liberation Serif", "DejaVu Serif", serif' font-size="33.60" textLength="53.21" lengthAdjust="spacingAndGlyphs">0.50</text>
<text x="64.27" y="1037.37" font-family='"Liberation Serif", "DejaVu Serif", serif' font-size="33.60" textLength="53.21" lengthAdjust="spacingAndGlyphs">0.75</text>
<text x="64.24" y="981.73" font-family='"Liberation Serif", "DejaVu Serif", serif' font-size="33.60" textLength="53.21" lengthAdjust="spacingAndGlyphs">1.00</text>
<text x="64.27" y="926.09" font-family='"Liberation Serif", "DejaVu Serif", serif' font-size="33.60" textLength="53.21" lengthAdjust="spacingAndGlyphs">1.25</text>
<text x="64.24" y="870.44" font-family='"Liberation Serif", "DejaVu Serif", serif' font-size="33.60" textLength="53.21" lengthAdjust="spacingAndGlyphs">1.50</text>
<text x="64.27" y="814.80" font-family='"Liberation Serif", "DejaVu Serif", serif' font-size="33.60" textLength="53.21" lengthAdjust="spacingAndGlyphs">1.75</text>
<text x="64.24" y="759.16" font-family='"Liberation Serif", "DejaVu Serif", serif' font-size="33.60" textLength="53.21" lengthAdjust="spacingAndGlyphs">2.00</text>
<g transform="translate(48.0 996.9) rotate(-90)"><text x="2.75" y="0.00" font-family='"Liberation Serif", "DejaVu Serif", serif' font-size="51.00" font-style="italic" textLength="23.47" lengthAdjust="spacingAndGlyphs">p</text><text x="25.68" y="7.10" font-family='"Liberation Serif", "DejaVu Serif", serif' font-size="37.60" textLength="27.43" lengthAdjust="spacingAndGlyphs">Δ</text></g>
<text x="402.15" y="1286.60" font-family='"Liberation Serif", "DejaVu Serif", serif' font-size="51.00" font-style="italic" textLength="15.87" lengthAdjust="spacingAndGlyphs">f</text><text x="412.87" y="1251.67" font-family='"Liberation Serif", "DejaVu Serif", serif' font-size="30.00" textLength="18.09" lengthAdjust="spacingAndGlyphs" stroke="#000" stroke-width="0.55">~</text><text x="427.93" y="1268.60" font-family='"Liberation Serif", "DejaVu Serif", serif' font-size="36.00" textLength="31.55" lengthAdjust="spacingAndGlyphs">co</text><text x="423.41" y="1300.00" font-family='"Liberation Serif", "DejaVu Serif", serif' font-size="36.20" textLength="23.32" lengthAdjust="spacingAndGlyphs">T</text>
<text x="68.87" y="1369.40" font-family='"Liberation Serif", "DejaVu Serif", serif' font-size="33.00" textLength="45.86" lengthAdjust="spacingAndGlyphs">(b)</text>
<text x="127.95" y="1369.40" font-family='"Liberation Serif", "DejaVu Serif", serif' font-size="33.00" font-style="italic" textLength="16.66" lengthAdjust="spacingAndGlyphs">p</text><text x="144.54" y="1373.80" font-family='"Liberation Serif", "DejaVu Serif", serif' font-size="23.10" textLength="24.71" lengthAdjust="spacingAndGlyphs">Δ</text>
<text x="184.10" y="1369.40" font-family='"Liberation Serif", "DejaVu Serif", serif' font-size="33.00" textLength="93.73" lengthAdjust="spacingAndGlyphs">versus</text>
<text x="292.27" y="1369.40" font-family='"Liberation Serif", "DejaVu Serif", serif' font-size="33.50" font-style="italic" textLength="10.42" lengthAdjust="spacingAndGlyphs">f</text><text x="299.02" y="1346.84" font-family='"Liberation Serif", "DejaVu Serif", serif' font-size="22.00" textLength="13.29" lengthAdjust="spacingAndGlyphs" stroke="#000" stroke-width="0.4">~</text><text x="309.92" y="1356.90" font-family='"Liberation Serif", "DejaVu Serif", serif' font-size="23.30" textLength="29.15" lengthAdjust="spacingAndGlyphs">co</text><text x="307.32" y="1380.30" font-family='"Liberation Serif", "DejaVu Serif", serif' font-size="24.30" textLength="19.72" lengthAdjust="spacingAndGlyphs">T</text>
<text x="352.49" y="1369.40" font-family='"Liberation Serif", "DejaVu Serif", serif' font-size="33.00" textLength="42.03" lengthAdjust="spacingAndGlyphs">for</text>
<text x="405.86" y="1369.40" font-family='"Liberation Serif", "DejaVu Serif", serif' font-size="33.00" textLength="16.97" lengthAdjust="spacingAndGlyphs">a</text>
<text x="435.23" y="1369.40" font-family='"Liberation Serif", "DejaVu Serif", serif' font-size="33.00" textLength="85.30" lengthAdjust="spacingAndGlyphs">range</text>
<text x="530.83" y="1369.40" font-family='"Liberation Serif", "DejaVu Serif", serif' font-size="33.00" textLength="29.87" lengthAdjust="spacingAndGlyphs">of</text>
<text x="568.50" y="1369.40" font-family='"DejaVu Math TeX Gyre", "DejaVu Serif", "Liberation Serif", serif' font-size="30.69" textLength="38.89" lengthAdjust="spacingAndGlyphs" stroke="#000" stroke-width="0.12">𝒩</text><text x="609.38" y="1369.40" font-family='"Liberation Serif", "DejaVu Serif", serif' font-size="34.15" font-style="italic" textLength="19.91" lengthAdjust="spacingAndGlyphs">A</text><text x="634.31" y="1374.00" font-family='"Liberation Serif", "DejaVu Serif", serif' font-size="23.10" font-style="italic" textLength="14.42" lengthAdjust="spacingAndGlyphs">J</text>
<text x="665.68" y="1369.40" font-family='"Liberation Serif", "DejaVu Serif", serif' font-size="33.00" textLength="54.18" lengthAdjust="spacingAndGlyphs">and</text>
<text x="734.89" y="1369.40" font-family='"Liberation Serif", "DejaVu Serif", serif' font-size="33.00" textLength="74.06" lengthAdjust="spacingAndGlyphs">TBE</text>
<text x="822.40" y="1369.40" font-family='"Liberation Serif", "DejaVu Serif", serif' font-size="33.00" textLength="100.36" lengthAdjust="spacingAndGlyphs">values.</text>
<rect x="762.7" y="775.4" width="215.9" height="388.5" fill="#fff" stroke="#d3d3d3" stroke-width="1.9"/>
<text x="785.07" y="811.50" font-family='"DejaVu Math TeX Gyre", "DejaVu Serif", "Liberation Serif", serif' font-size="33.29" textLength="40.76" lengthAdjust="spacingAndGlyphs" stroke="#000" stroke-width="0.12">𝒩</text><text x="826.38" y="811.50" font-family='"Liberation Serif", "DejaVu Serif", serif' font-size="37.05" font-style="italic" textLength="21.00" lengthAdjust="spacingAndGlyphs">A</text><text x="850.25" y="816.70" font-family='"Liberation Serif", "DejaVu Serif", serif' font-size="25.06" font-style="italic" textLength="13.28" lengthAdjust="spacingAndGlyphs">J</text>
<text x="865.87" y="811.50" font-family='"Liberation Serif", "DejaVu Serif", serif' font-size="35.80" textLength="7.39" lengthAdjust="spacingAndGlyphs">,</text>
<text x="884.04" y="811.50" font-family='"Liberation Serif", "DejaVu Serif", serif' font-size="36.20" textLength="68.77" lengthAdjust="spacingAndGlyphs">TBE</text>
<line x1="774.0" y1="843.40" x2="836.0" y2="843.40" stroke="#00bfff" stroke-width="2.8"/>
<text x="858.27" y="854.60" font-family='"Liberation Serif", "DejaVu Serif", serif' font-size="32.40" textLength="108.80" lengthAdjust="spacingAndGlyphs">1.00, 0.1</text>
<line x1="774.0" y1="885.25" x2="836.0" y2="885.25" stroke="#5b2a9c" stroke-width="2.8"/>
<text x="858.27" y="896.45" font-family='"Liberation Serif", "DejaVu Serif", serif' font-size="32.40" textLength="108.80" lengthAdjust="spacingAndGlyphs">1.25, 0.1</text>
<line x1="774.0" y1="927.10" x2="836.0" y2="927.10" stroke="#dc143c" stroke-width="2.8"/>
<text x="858.27" y="938.30" font-family='"Liberation Serif", "DejaVu Serif", serif' font-size="32.40" textLength="108.80" lengthAdjust="spacingAndGlyphs">1.50, 0.1</text>
<line x1="774.0" y1="968.95" x2="836.0" y2="968.95" stroke="#daa520" stroke-width="2.8"/>
<text x="858.27" y="980.15" font-family='"Liberation Serif", "DejaVu Serif", serif' font-size="32.40" textLength="108.80" lengthAdjust="spacingAndGlyphs">1.90, 0.1</text>
<line x1="774.0" y1="1010.80" x2="836.0" y2="1010.80" stroke="#00bfff" stroke-width="2.8" stroke-dasharray="17.41 4.35 2.72 4.35"/>
<text x="858.28" y="1022.00" font-family='"Liberation Serif", "DejaVu Serif", serif' font-size="32.40" textLength="108.12" lengthAdjust="spacingAndGlyphs">1.00, 0.3</text>
<line x1="774.0" y1="1052.65" x2="836.0" y2="1052.65" stroke="#5b2a9c" stroke-width="2.8" stroke-dasharray="17.41 4.35 2.72 4.35"/>
<text x="858.28" y="1063.85" font-family='"Liberation Serif", "DejaVu Serif", serif' font-size="32.40" textLength="108.12" lengthAdjust="spacingAndGlyphs">1.25, 0.3</text>
<line x1="774.0" y1="1094.50" x2="836.0" y2="1094.50" stroke="#dc143c" stroke-width="2.8" stroke-dasharray="17.41 4.35 2.72 4.35"/>
<text x="858.28" y="1105.70" font-family='"Liberation Serif", "DejaVu Serif", serif' font-size="32.40" textLength="108.12" lengthAdjust="spacingAndGlyphs">1.50, 0.3</text>
<line x1="774.0" y1="1136.35" x2="836.0" y2="1136.35" stroke="#daa520" stroke-width="2.8" stroke-dasharray="17.41 4.35 2.72 4.35"/>
<text x="858.28" y="1147.55" font-family='"Liberation Serif", "DejaVu Serif", serif' font-size="32.40" textLength="108.12" lengthAdjust="spacingAndGlyphs">1.90, 0.3</text>
</svg>
</body></html>
